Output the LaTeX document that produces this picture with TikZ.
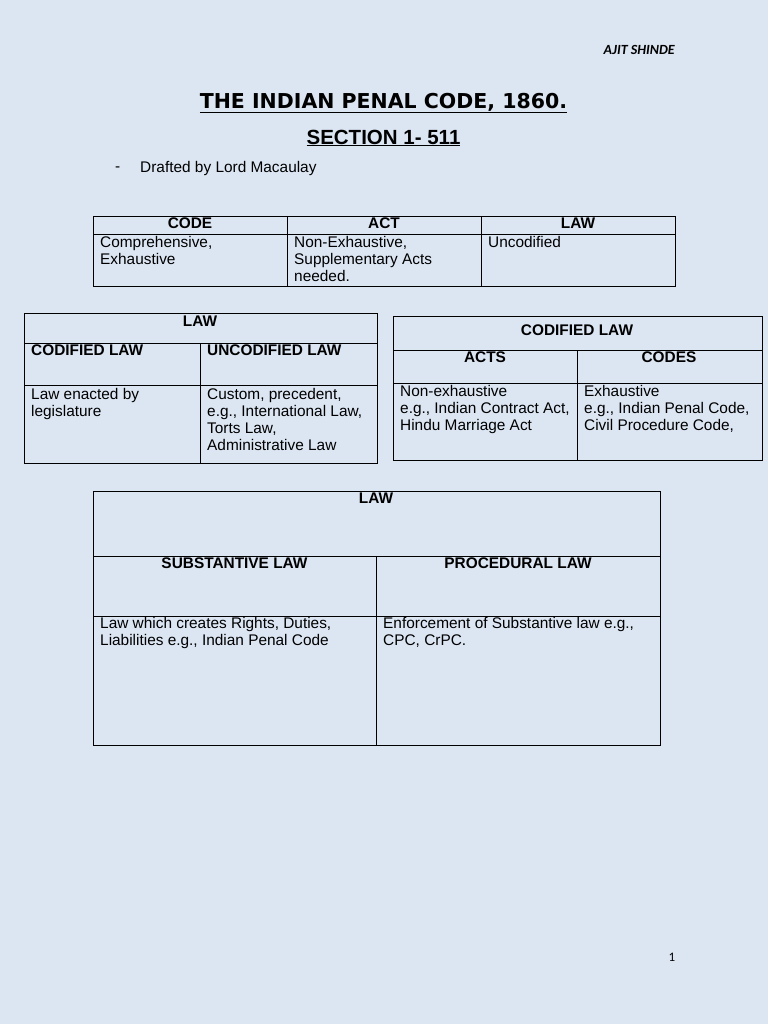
\documentclass[tikz,border=0pt]{standalone}
\usepackage{fontspec}
\setmainfont{Liberation Sans}
\newfontfamily\titlefont{DejaVu Sans}
\newfontfamily\carl{Carlito}
\begin{document}
\begin{tikzpicture}[x=1pt,y=-1pt,
  cell/.style={anchor=north west,align=left,inner sep=0pt,font=\fontsize{15.4}{17.2}\selectfont},
  hcell/.style={anchor=north,align=center,inner sep=0pt,font=\bfseries\fontsize{15.4}{17.2}\selectfont},
  grid/.style={draw=black,line width=0.8pt}]
\fill[fill={rgb,255:red,220;green,230;blue,243}] (0,0) rectangle (768,1024);
\useasboundingbox (0,0) rectangle (768,1024);
\node[font=\carl\bfseries\itshape\fontsize{14}{16}\selectfont,anchor=east,inner sep=0pt] (auth) at (675,50) {AJIT SHINDE};
\node[font=\titlefont\bfseries\fontsize{20.5}{24}\selectfont,inner sep=0pt] (title) at (383.5,103) {\underline{THE INDIAN PENAL CODE, 1860.}};
\node[font=\bfseries\fontsize{20.5}{24}\selectfont,inner sep=0pt] (sect) at (383.5,138) {\underline{SECTION 1- 511}};
\node[cell,anchor=west] (dash) at (115,169) {-};
\node[cell,anchor=west] (draft) at (140,169) {Drafted by Lord Macaulay};
% table 1
\draw[grid] (93,216) rectangle (675,286);
\draw[grid] (93,234)--(675,234) (287,216)--(287,286) (481,216)--(481,286);
\node[hcell] (t1a) at (190,218) {CODE};
\node[hcell] (t1b) at (384,218) {ACT};
\node[hcell] (t1c) at (578,218) {LAW};
\node[cell] (t1d) at (100,236) {Comprehensive,\\Exhaustive};
\node[cell] (t1e) at (294,236) {Non-Exhaustive,\\Supplementary Acts\\needed.};
\node[cell] (t1f) at (488,236) {Uncodified};
% table 2
\draw[grid] (24,313) rectangle (377,463);
\draw[grid] (24,343)--(377,343) (24,385)--(377,385) (200,343)--(200,463);
\node[hcell] (t2a) at (200,316) {LAW};
\node[cell,font=\bfseries\fontsize{15.4}{17.2}\selectfont] (t2b) at (31,345) {CODIFIED LAW};
\node[cell,font=\bfseries\fontsize{15.4}{17.2}\selectfont] (t2c) at (207,345) {UNCODIFIED LAW};
\node[cell] (t2d) at (31,388) {Law enacted by\\legislature};
\node[cell] (t2e) at (207,388) {Custom, precedent,\\e.g., International Law,\\Torts Law,\\Administrative Law};
% table 3
\draw[grid] (393,316) rectangle (762,460);
\draw[grid] (393,350)--(762,350) (393,383)--(762,383) (577,350)--(577,460);
\node[hcell] (t3a) at (577,325) {CODIFIED LAW};
\node[hcell] (t3b) at (485,352) {ACTS};
\node[hcell] (t3c) at (669,352) {CODES};
\node[cell] (t3d) at (400,385) {Non-exhaustive\\e.g., Indian Contract Act,\\Hindu Marriage Act};
\node[cell] (t3e) at (584,385) {Exhaustive\\e.g., Indian Penal Code,\\Civil Procedure Code,};
% table 4
\draw[grid] (93,491) rectangle (660,745);
\draw[grid] (93,556)--(660,556) (93,616)--(660,616) (376,556)--(376,745);
\node[hcell] (t4a) at (376,493) {LAW};
\node[hcell] (t4b) at (234.5,558) {SUBSTANTIVE LAW};
\node[hcell] (t4c) at (518,558) {PROCEDURAL LAW};
\node[cell] (t4d) at (100,617) {Law which creates Rights, Duties,\\Liabilities e.g., Indian Penal Code};
\node[cell] (t4e) at (383,617) {Enforcement of Substantive law e.g.,\\CPC, CrPC.};
\node[font=\carl\fontsize{13}{14}\selectfont,inner sep=0pt] (pg) at (672,957) {1};
\end{tikzpicture}
\end{document}
